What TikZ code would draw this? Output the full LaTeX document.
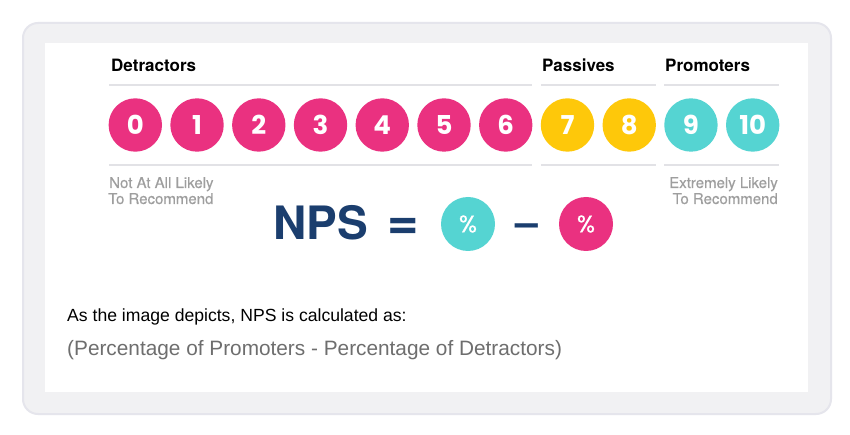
\documentclass[tikz,border=0pt]{standalone}
\usepackage{fontspec}
\setmainfont{Liberation Sans}
\newfontfamily\herosf{TeX Gyre Heros}
\newfontfamily\popf{Poppins}
\definecolor{npspink}{HTML}{EA3180}
\definecolor{npsyellow}{HTML}{FEC80A}
\definecolor{npscyan}{HTML}{55D4D2}
\definecolor{npsnavy}{HTML}{1B3E6E}
\definecolor{labelgray}{HTML}{9E9E9E}
\definecolor{rulegray}{HTML}{E2E2E6}
\definecolor{framebg}{HTML}{F1F1F3}
\definecolor{framebd}{HTML}{E5E5EC}
\definecolor{formulagray}{HTML}{6E6E6E}
\begin{document}
\begin{tikzpicture}[x=1pt,y=-1pt,
  rulestyle/.style={draw=rulegray, line width=1.8pt},
  heading/.style={anchor=base west, inner sep=0pt, font=\herosf\bfseries\fontsize{17}{20}\selectfont},
  numc/.style={circle, minimum size=53.4pt, inner sep=0pt, text=white, font=\popf\bfseries\fontsize{26}{26}\selectfont},
  scalelbl/.style={inner sep=0pt, text=labelgray, font=\herosf\addfontfeature{FakeBold=0.4}\fontsize{15}{16}\selectfont},
  pctc/.style={circle, minimum size=54pt, inner sep=0pt, text=white, font=\popf\addfontfeature{FakeBold=0.6}\fontsize{24}{24}\selectfont},
  symb/.style={inner sep=0pt, text=npsnavy, anchor=base}
]
\useasboundingbox (0,0) rectangle (850,435);
\fill[white] (0,0) rectangle (850,435);
\draw[draw=framebd, line width=2pt, fill=framebg, rounded corners=15pt] (23,23) rectangle (831,414);
\fill[white] (45,43) rectangle (808,392);

% rules
\draw[rulestyle] (109,85) -- (532,85);
\draw[rulestyle] (541,85) -- (656,85);
\draw[rulestyle] (664,85) -- (779,85);
\draw[rulestyle] (109,165) -- (532,165);
\draw[rulestyle] (541,165) -- (656,165);
\draw[rulestyle] (664,165) -- (779,165);

% headings
\node[heading] (hdet) at (111,72) {Detractors};
\node[heading] (hpas) at (542,72) {Passives};
\node[heading] (hpro) at (665,72) {Promoters};

% score circles
\foreach \i/\c in {0/npspink,1/npspink,2/npspink,3/npspink,4/npspink,5/npspink,6/npspink,7/npsyellow,8/npsyellow,9/npscyan,10/npscyan}
  \node[numc, fill=\c] (n\i) at ({135.3+61.74*\i},125) {\i};

% scale labels
\node[scalelbl, anchor=base west] (lo1) at (109,188) {Not At All Likely};
\node[scalelbl, anchor=base west] (lo2) at (108,204) {To Recommend};
\node[scalelbl, anchor=base east] (hi1) at (778,188) {Extremely Likely};
\node[scalelbl, anchor=base east] (hi2) at (778,204) {To Recommend};

% formula
\node[anchor=base west, inner sep=0pt, text=npsnavy, font=\herosf\bfseries\fontsize{46}{46}\selectfont] (nps) at (273,239.5) {NPS};
\node[symb, font=\herosf\bfseries\fontsize{54}{54}\selectfont] (eq) at (403.5,239.5) {=};
\node[pctc, fill=npscyan] (pprom) at (468,224) {\%};
\node[symb, font=\herosf\bfseries\fontsize{41}{41}\selectfont] (minus) at (526.5,236.5) {–};
\node[pctc, fill=npspink] (pdet) at (586,224) {\%};

% text
\node[anchor=base west, inner sep=0pt, font=\fontsize{17.6}{20}\selectfont] (t1) at (67,321.7) {As the image depicts, NPS is calculated as:};
\node[anchor=base west, inner sep=0pt, text=formulagray, font=\fontsize{20.8}{24}\selectfont] (t2) at (67,355) {(Percentage of Promoters - Percentage of Detractors)};
\end{tikzpicture}
\end{document}
